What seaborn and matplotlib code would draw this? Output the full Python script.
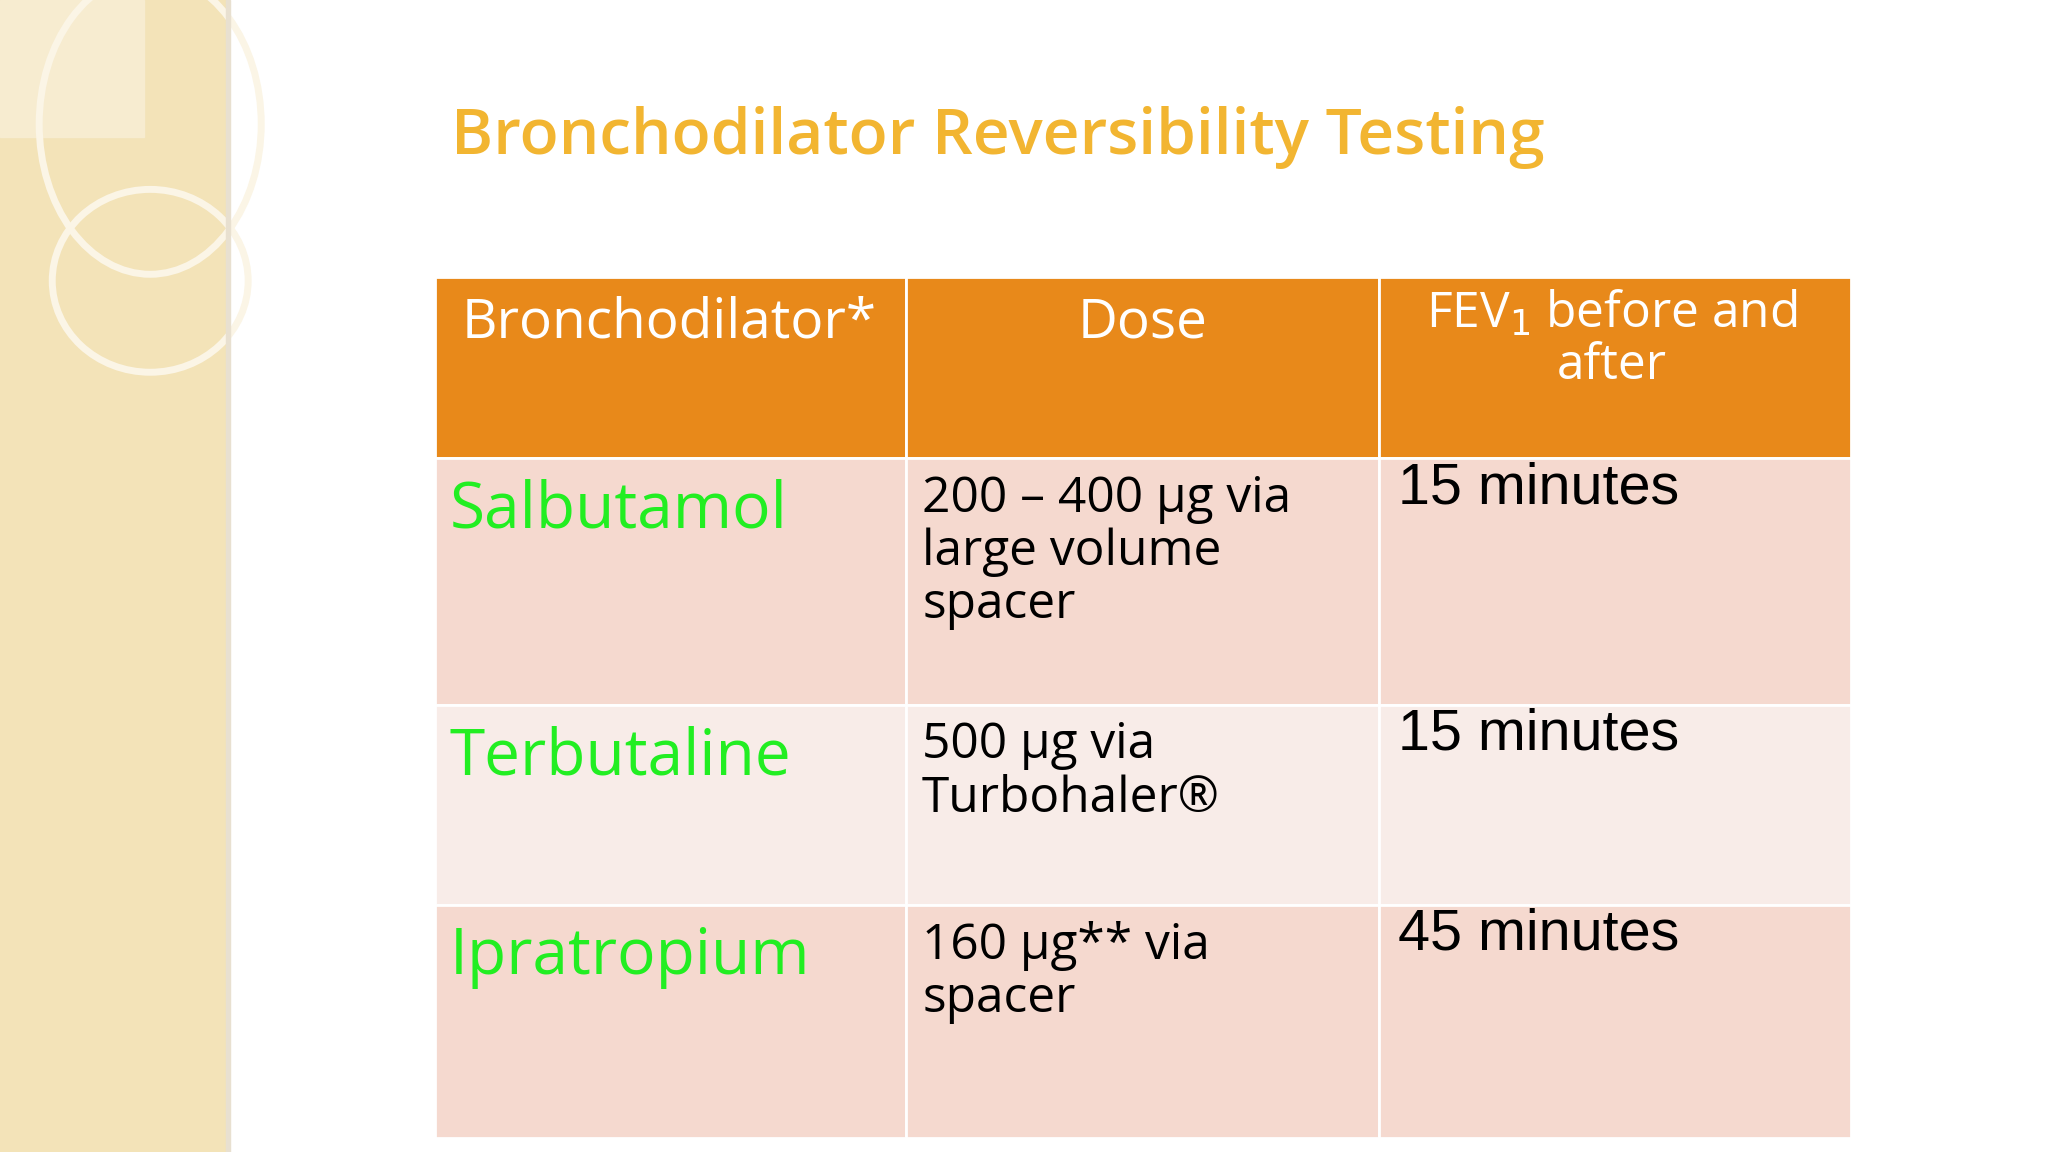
import matplotlib
matplotlib.use("Agg")
import matplotlib.pyplot as plt
import seaborn as sns
from matplotlib.patches import Rectangle, Ellipse

sns.set_theme(style="white")
plt.rcParams['font.family'] = ['Open Sans', 'DejaVu Sans']

title = "Bronchodilator Reversibility Testing"
headers = ["Bronchodilator*", "Dose", "FEV$_1$ before and\nafter"]
drugs = ["Salbutamol", "Terbutaline", "Ipratropium"]
doses = ["200 – 400 µg via\nlarge volume\nspacer", "500 µg via\nTurbohaler®", "160 µg** via\nspacer"]
times = ["15 minutes", "15 minutes", "45 minutes"]

W, H = 1568, 882
fig = plt.figure(figsize=(20.48, 11.52), dpi=100)
ax = fig.add_axes([0, 0, 1, 1])
ax.set_xlim(0, W); ax.set_ylim(H, 0); ax.axis("off")
s = 2048 / W * 0.72  # display px -> pt

# left decorative strip
ax.add_patch(Rectangle((0, 0), 173, H, color="#F3E3B8", zorder=0))
ax.add_patch(Rectangle((0, 0), 110, 105, color="#F7ECD0", zorder=0))
for (cx, cy, w, h) in [(115, 95, 170, 230), (115, 215, 150, 140)]:
    ax.add_patch(Ellipse((cx, cy), w, h, fill=False, ec="#FBF5E6", lw=5, zorder=1))
ax.add_patch(Rectangle((173, 0), 3, H, color="#E8E0D0", zorder=1))

ax.text(345, 105, title, color="#F2B531", fontsize=49*s, fontweight="semibold",
        va="center", ha="left")

cols = [333, 694, 1056, 1417]
rows = [212, 351, 540, 693, 871]
row_colors = ["#E8891A", "#F5D9CF", "#F8ECE8", "#F5D9CF"]
for r in range(4):
    for c in range(3):
        ax.add_patch(Rectangle((cols[c], rows[r]), cols[c+1]-cols[c], rows[r+1]-rows[r],
                               fc=row_colors[r], ec="white", lw=2, zorder=2))

hx = [512, 875, 1234]
for i, h in enumerate(headers):
    ax.text(hx[i], 247 if i < 2 else 244, h, color="white", fontsize=42*s if i < 2 else 38*s,
            ha="center", va="center" if i < 2 else "top", linespacing=1.0, zorder=3) if i < 2 else \
    ax.text(hx[i], 222, h, color="white", fontsize=38*s, ha="center", va="top",
            linespacing=1.05, zorder=3)

for r in range(3):
    y = rows[r+1]
    ax.text(344, y + 40, drugs[r], color="#22EE22", fontsize=49*s, va="center", ha="left", zorder=3)
    ax.text(706, y + 12, doses[r], color="black", fontsize=38*s, va="top", ha="left",
            linespacing=1.1, zorder=3)
    ax.text(1070, y + 2, times[r], color="black", fontsize=44*s, va="top", ha="left",
            family=['Liberation Sans', 'DejaVu Sans'], zorder=3)

fig.savefig("out.png", dpi=100, facecolor="white")
